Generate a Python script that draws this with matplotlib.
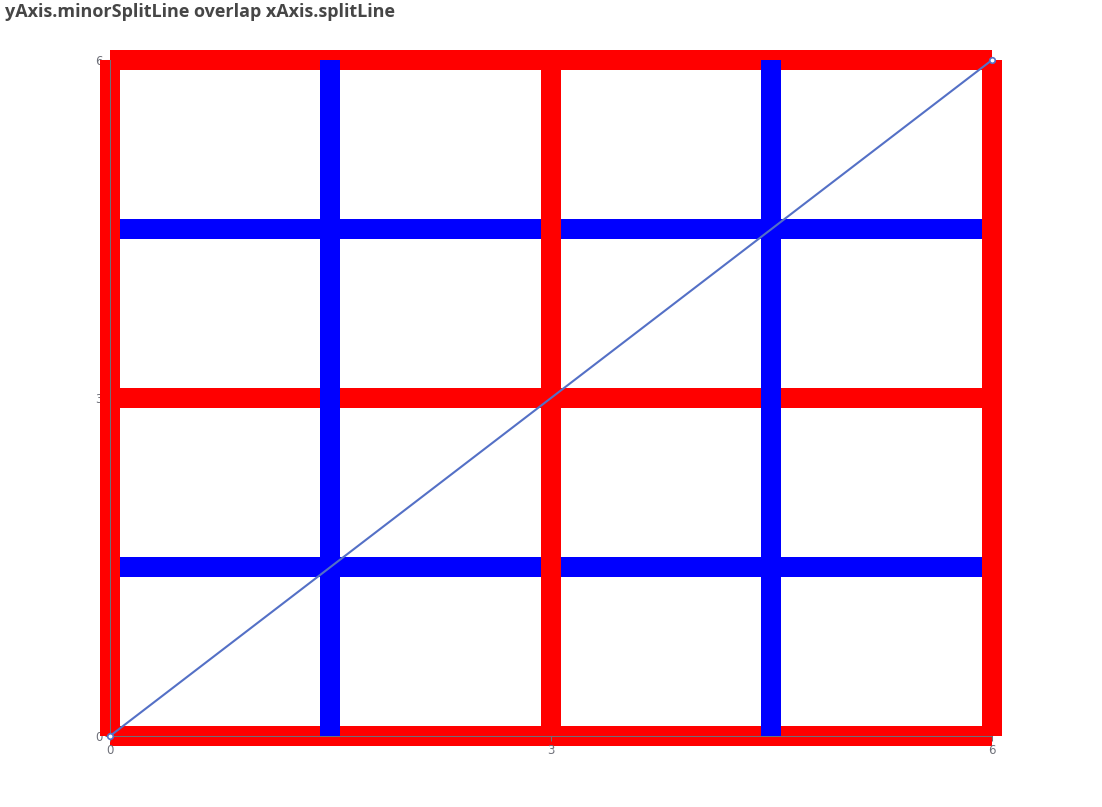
import matplotlib.pyplot as plt

# Axis values
major_ticks = [0, 3, 6]        # splitLine positions (both axes)
minor_ticks = [1.5, 4.5]       # minorSplitLine positions
axis_min, axis_max = 0, 6
line_x = [0, 6]
line_y = [0, 6]

red = "#ff0000"
blue = "#0000ff"
gray = "#6E7079"
lw = 20 * 72 / 100  # 20px wide split lines

fig = plt.figure(figsize=(11.02, 8.07), dpi=100)
ax = fig.add_axes([110 / 1102, 71 / 807, 882 / 1102, 676 / 807])
ax.set_xlim(axis_min, axis_max)
ax.set_ylim(axis_min, axis_max)

# yAxis splitLine (horizontal, red)
for v in major_ticks:
    ax.plot([axis_min, axis_max], [v, v], color=red, lw=lw,
            solid_capstyle="butt", clip_on=False, zorder=1)
# yAxis minorSplitLine (horizontal, blue)
for v in minor_ticks:
    ax.plot([axis_min, axis_max], [v, v], color=blue, lw=lw,
            solid_capstyle="butt", clip_on=False, zorder=2)
# xAxis splitLine (vertical, red)
for v in major_ticks:
    ax.plot([v, v], [axis_min, axis_max], color=red, lw=lw,
            solid_capstyle="butt", clip_on=False, zorder=3)
# xAxis minorSplitLine (vertical, blue)
for v in minor_ticks:
    ax.plot([v, v], [axis_min, axis_max], color=blue, lw=lw,
            solid_capstyle="butt", clip_on=False, zorder=4)

# the series
ax.plot(line_x, line_y, color="#5470c6", lw=1.5, marker="o", markersize=4,
        markerfacecolor="white", markeredgecolor="#5470c6", markeredgewidth=1.2,
        clip_on=False, zorder=7)

for s in ["top", "right"]:
    ax.spines[s].set_visible(False)
for s in ["left", "bottom"]:
    ax.spines[s].set_color(gray)
    ax.spines[s].set_linewidth(0.75)
    ax.spines[s].set_zorder(6)

ax.set_xticks(major_ticks)
ax.set_yticks(major_ticks)
ax.set_xticklabels([str(t) for t in major_ticks])
ax.set_yticklabels([str(t) for t in major_ticks])
ax.tick_params(axis="both", colors=gray, labelcolor=gray, labelsize=8.5,
               length=3.6, width=0.75, pad=2)
ax.set_facecolor("white")

fig.text(5 / 1102, 1 - 12 / 807, "yAxis.minorSplitLine overlap xAxis.splitLine",
         fontsize=13, fontweight="bold", color="#464646", va="center",
         ha="left", family="Open Sans")

fig.savefig("out.png", dpi=100)
